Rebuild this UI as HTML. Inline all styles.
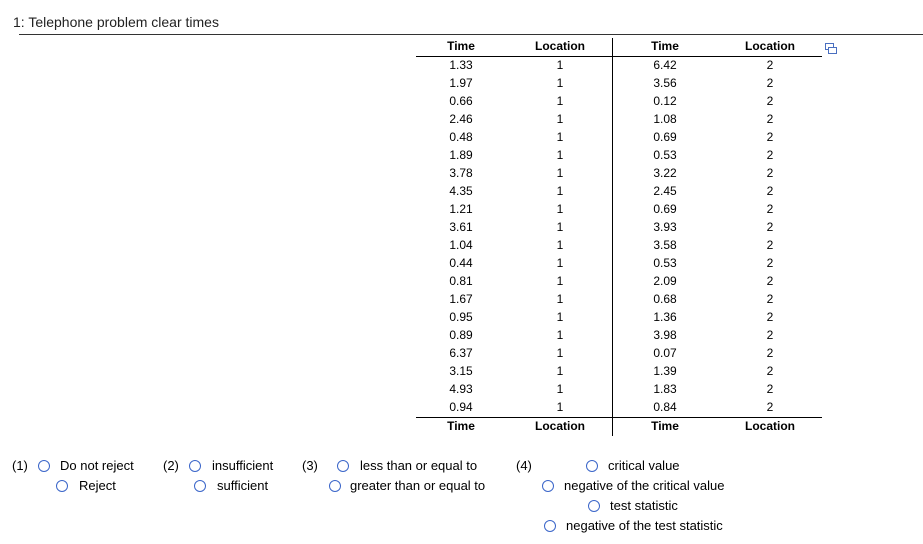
<!DOCTYPE html>
<html><head><style>
body{margin:0;width:923px;height:544px;background:#fff;font-family:"Liberation Sans",Arial,sans-serif;color:#000;position:relative;overflow:hidden}
.t{position:absolute;font-size:13px;line-height:14px;white-space:nowrap}
.c{position:absolute;font-size:12px;line-height:14px;text-align:center;width:80px}
.b{font-weight:bold}
.r{position:absolute;width:10px;height:10px;border:1.3px solid #3b66c9;border-radius:50%;box-sizing:content-box}
.hl{position:absolute;height:1px;background:#000}
</style></head><body>
<div class="t" style="left:13px;top:14px;font-size:14px;line-height:16px;color:#222">1: Telephone problem clear times</div>
<div class="hl" style="left:19px;top:34px;width:904px;background:#333"></div>
<div class="hl" style="left:416px;top:56px;width:406px"></div>
<div class="hl" style="left:416px;top:417px;width:406px"></div>
<div style="position:absolute;left:612px;top:38px;width:1px;height:398px;background:#000"></div>
<div style="position:absolute;left:825px;top:43px;width:7px;height:5px;border:1px solid #4a6fc0"></div>
<div style="position:absolute;left:828px;top:47px;width:7px;height:5px;border:1px solid #4a6fc0;background:#fff"></div>
<div id="tbl"></div>
<script>
var a=[1.33,1.97,0.66,2.46,0.48,1.89,3.78,4.35,1.21,3.61,1.04,0.44,0.81,1.67,0.95,0.89,6.37,3.15,4.93,0.94];
var b=[6.42,3.56,0.12,1.08,0.69,0.53,3.22,2.45,0.69,3.93,3.58,0.53,2.09,0.68,1.36,3.98,0.07,1.39,1.83,0.84];
var cx=[461,560,665,770],h='';
function cell(x,y,s,bold){h+='<div class="c'+(bold?' b':'')+'" style="left:'+(x-40)+'px;top:'+y+'px">'+s+'</div>';}
['Time','Location','Time','Location'].forEach(function(s,i){cell(cx[i],39,s,1);cell(cx[i],419,s,1);});
for(var i=0;i<20;i++){var y=58+i*18;cell(cx[0],y,a[i].toFixed(2));cell(cx[1],y,'1');cell(cx[2],y,b[i].toFixed(2));cell(cx[3],y,'2');}
document.getElementById('tbl').innerHTML=h;
</script>
<div class="t" style="left:12px;top:459px">(1)</div>
<div class="r" style="left:38px;top:460px"></div><div class="t" style="left:60px;top:459px">Do not reject</div>
<div class="r" style="left:56px;top:480px"></div><div class="t" style="left:79px;top:479px">Reject</div>
<div class="t" style="left:163px;top:459px">(2)</div>
<div class="r" style="left:189px;top:460px"></div><div class="t" style="left:212px;top:459px">insufficient</div>
<div class="r" style="left:194px;top:480px"></div><div class="t" style="left:217px;top:479px">sufficient</div>
<div class="t" style="left:302px;top:459px">(3)</div>
<div class="r" style="left:337px;top:460px"></div><div class="t" style="left:360px;top:459px">less than or equal to</div>
<div class="r" style="left:329px;top:480px"></div><div class="t" style="left:350px;top:479px">greater than or equal to</div>
<div class="t" style="left:516px;top:459px">(4)</div>
<div class="r" style="left:586px;top:460px"></div><div class="t" style="left:608px;top:459px">critical value</div>
<div class="r" style="left:542px;top:480px"></div><div class="t" style="left:564px;top:479px">negative of the critical value</div>
<div class="r" style="left:588px;top:500px"></div><div class="t" style="left:610px;top:499px">test statistic</div>
<div class="r" style="left:544px;top:520px"></div><div class="t" style="left:566px;top:519px">negative of the test statistic</div>
</body></html>
